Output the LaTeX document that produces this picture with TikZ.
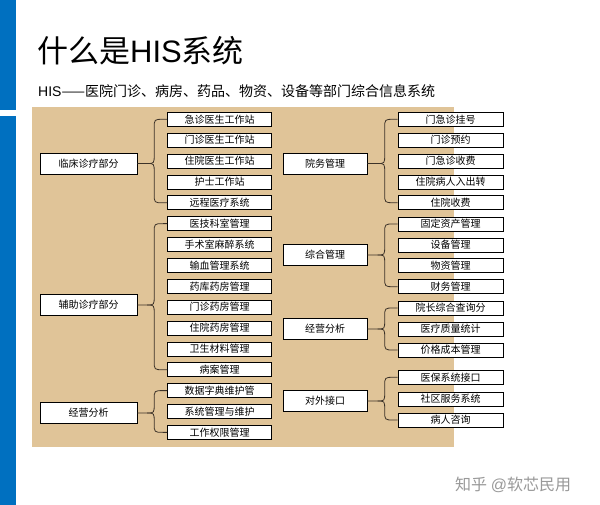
\documentclass[tikz,border=0pt]{standalone}
\usepackage{fontspec}
\setmainfont{Noto Sans CJK SC}
\newfontfamily\lat{Liberation Sans}
\usetikzlibrary{calc}
\definecolor{panel}{RGB}{224,196,152}
\definecolor{barblue}{RGB}{0,112,192}
\definecolor{brc}{RGB}{60,50,40}
\begin{document}
\begin{tikzpicture}[x=1pt,y=-1pt,
 sbox/.style={draw=black,line width=0.6pt,fill=white,minimum width=104pt,minimum height=14pt,inner sep=0pt,font=\fontsize{10}{10}\selectfont},
 rbox/.style={sbox,minimum width=105pt},
 bbox/.style={draw=black,line width=0.6pt,fill=white,minimum height=21pt,inner sep=0pt,font=\fontsize{10}{10}\selectfont},
 br/.style={draw=brc,line width=0.8pt}]
\useasboundingbox (0,0) rectangle (600,505);
\fill[white] (0,0) rectangle (600,505);
\fill[barblue] (0,0) rectangle (16,110);
\fill[barblue] (0,116) rectangle (16,505);
\node[anchor=base west,inner sep=0pt,font=\fontsize{31}{31}\selectfont] (title) at (37,63) {什么是{\lat HIS}系统};
\node[anchor=base west,inner sep=0pt,font=\fontsize{14}{14}\selectfont] (sub) at (38,97) {{\lat HIS}——医院门诊、病房、药品、物资、设备等部门综合信息系统};
\fill[panel] (32,107) rectangle (454,447);
% left small boxes
\foreach \t [count=\i from 0] in {急诊医生工作站,门诊医生工作站,住院医生工作站,护士工作站,远程医疗系统,医技科室管理,手术室麻醉系统,输血管理系统,药库药房管理,门诊药房管理,住院药房管理,卫生材料管理,病案管理,数据字典维护管,系统管理与维护,工作权限管理}
  \node[sbox] (L\i) at (219.5,{119.3+20.87*\i}) {\t};
% right small boxes
\foreach \t/\y [count=\i from 0] in {门急诊挂号/119.3,门诊预约/140,门急诊收费/161,住院病人入出转/182,住院收费/202.7,固定资产管理/224,设备管理/245,物资管理/265.7,财务管理/286.7,院长综合查询分/308,医疗质量统计/329,价格成本管理/350,医保系统接口/377.3,社区服务系统/399,病人咨询/420}
  \node[rbox] (R\i) at (450.5,\y) {\t};
% big boxes
\node[bbox,minimum width=97pt] (A) at (88.5,163.5) {临床诊疗部分};
\node[bbox,minimum width=97pt] (B) at (88.5,305) {辅助诊疗部分};
\node[bbox,minimum width=97pt] (C) at (88.5,413) {经营分析};
\node[bbox,minimum width=84pt] (D) at (325,163.5) {院务管理};
\node[bbox,minimum width=84pt] (E) at (325,255) {综合管理};
\node[bbox,minimum width=84pt] (F) at (325,329) {经营分析};
\node[bbox,minimum width=84pt] (G) at (325,401) {对外接口};
\newcommand\mybrace[3]{%
 \coordinate (s) at ($(#2.west)+(-13,0)$);
 \draw[br] (#1.east) -- ($(s|-#1.east)+(-7,0)$) .. controls (s|-#1.east) .. ($(s|-#1.east)+(0,-9)$)
   -- ($(s|-#2.west)+(0,9)$) .. controls (s|-#2.west) .. ($(s|-#2.west)+(9,0)$) -- (#2.west);
 \draw[br] ($(s|-#1.east)+(-7,0)$) .. controls (s|-#1.east) .. ($(s|-#1.east)+(0,9)$)
   -- ($(s|-#3.west)+(0,-9)$) .. controls (s|-#3.west) .. ($(s|-#3.west)+(9,0)$) -- (#3.west);}
\mybrace{A}{L0}{L4}
\mybrace{B}{L5}{L12}
\mybrace{C}{L13}{L15}
\mybrace{D}{R0}{R4}
\mybrace{E}{R5}{R8}
\mybrace{F}{R9}{R11}
\mybrace{G}{R12}{R14}
\node[anchor=base west,inner sep=0pt,text=black!40,font=\fontsize{16}{16}\selectfont] (wm) at (455,490) {知乎 {\lat @}软芯民用};
\end{tikzpicture}
\end{document}
